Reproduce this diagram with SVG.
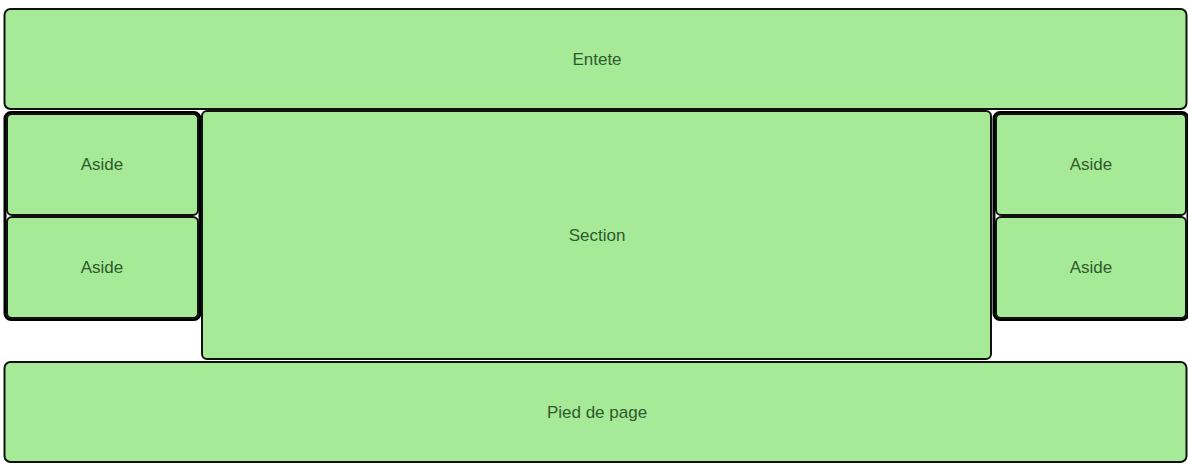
<svg xmlns="http://www.w3.org/2000/svg" width="1188" height="470" viewBox="0 0 1188 470">
<style>
.box{fill:#a6ea98;stroke:#111;stroke-width:2}
.grp{fill:none;stroke:#000;stroke-width:3}
.lbl{font-family:"Liberation Sans",Arial,sans-serif;font-size:17px;fill:#2f5a2c;text-anchor:middle;dominant-baseline:central}
</style>
<rect width="1188" height="470" fill="#fff"/>
<g id="entete">
<rect class="box" x="4.5" y="9" width="1182" height="100" rx="6"/>
<text class="lbl" x="597" y="59">Entete</text>
</g>
<g id="aside-left-group">
<rect class="grp" x="5" y="112.5" width="195" height="207" rx="6"/>
</g>
<g id="aside-left-1">
<rect class="box" x="7" y="114" width="191" height="101" rx="5"/>
<text class="lbl" x="102" y="164">Aside</text>
</g>
<g id="aside-left-2">
<rect class="box" x="7" y="217" width="191" height="101" rx="5"/>
<text class="lbl" x="102" y="267">Aside</text>
</g>
<g id="section">
<rect class="box" x="202" y="111" width="789" height="248" rx="5"/>
<text class="lbl" x="597" y="235">Section</text>
</g>
<g id="aside-right-group">
<rect class="grp" x="994" y="112.5" width="194" height="207" rx="6"/>
</g>
<g id="aside-right-1">
<rect class="box" x="996" y="114" width="190" height="101" rx="5"/>
<text class="lbl" x="1091" y="164">Aside</text>
</g>
<g id="aside-right-2">
<rect class="box" x="996" y="217" width="190" height="101" rx="5"/>
<text class="lbl" x="1091" y="267">Aside</text>
</g>
<g id="pied">
<rect class="box" x="4.5" y="362" width="1182" height="100" rx="6"/>
<text class="lbl" x="597" y="412">Pied de page</text>
</g>
<g id="connectors"></g>
</svg>
